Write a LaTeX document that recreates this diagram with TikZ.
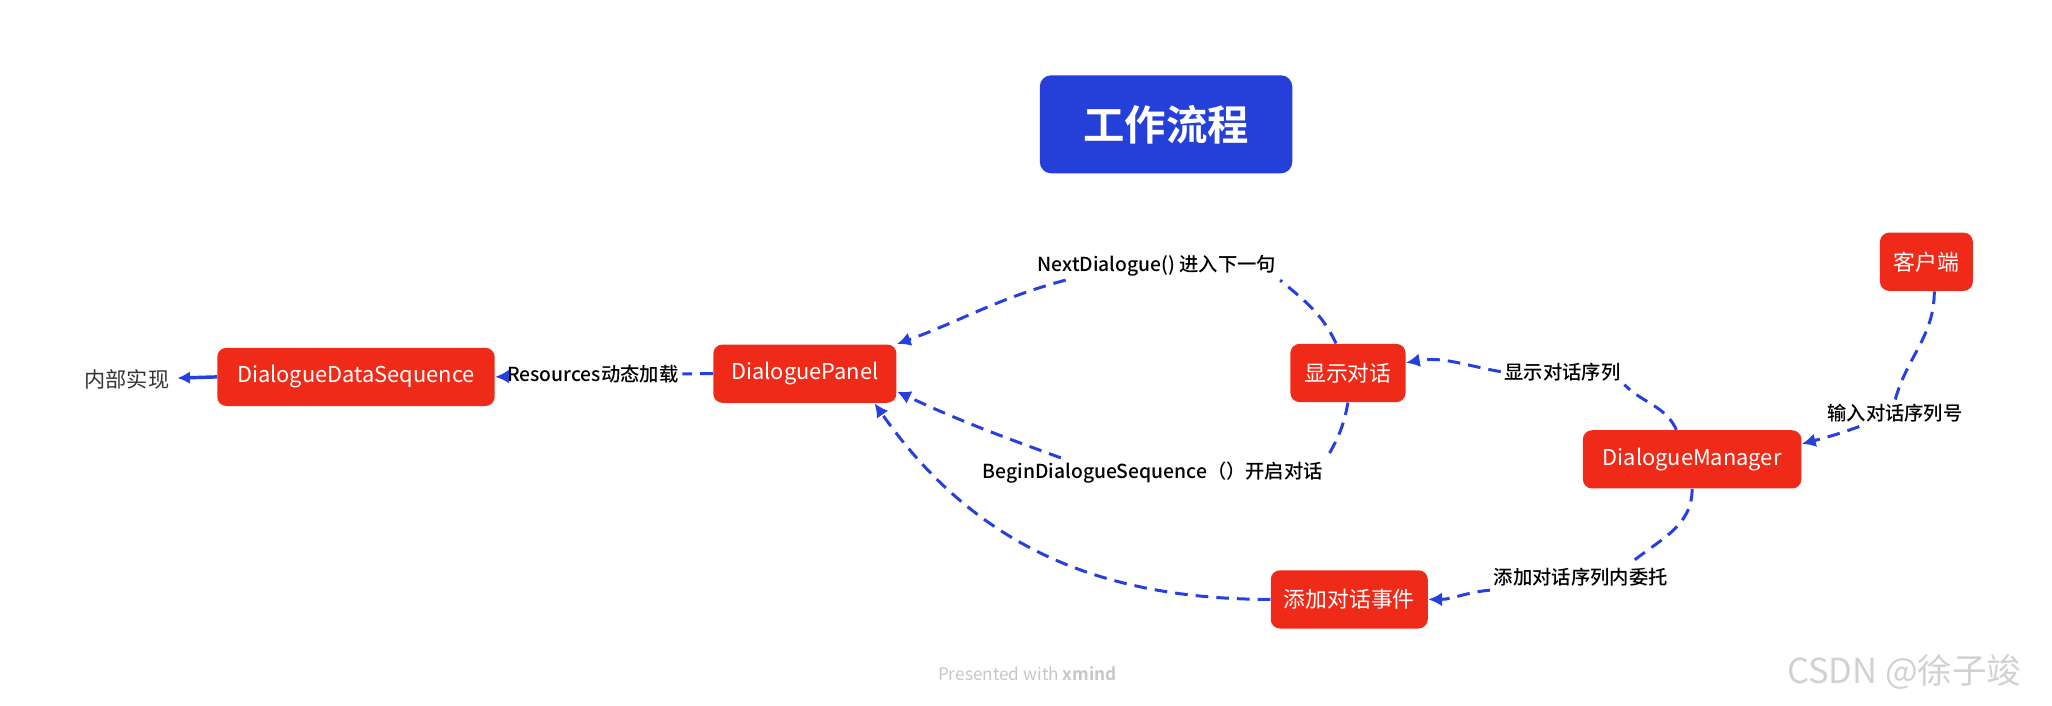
\documentclass[tikz,border=0pt]{standalone}
\usepackage{fontspec}
\setmainfont{Noto Sans CJK SC}
\newfontfamily\midfont{Noto Sans CJK SC Medium}
\newfontfamily\heavyfont{Noto Sans CJK SC Bold}
\usetikzlibrary{arrows.meta}

\definecolor{boxred}{RGB}{240,42,25}
\definecolor{titleblue}{RGB}{36,64,217}
\definecolor{lineblue}{RGB}{38,64,222}

\begin{document}
\begin{tikzpicture}[x=0.02cm,y=-0.02cm,
    redbox/.style={fill=boxred,text=white,rounded corners=4pt,
        minimum height=0.89cm,inner xsep=0pt,
        font=\fontsize{9.5}{10}\selectfont},
    tag/.style={inner sep=1.5pt,text=black,
        font=\midfont\fontsize{8.4}{10}\selectfont},
    flowline/.style={lineblue,line width=1.3pt,dash pattern=on 5.5pt off 3.5pt},
    flow/.style={flowline,-{Latex[length=6pt,width=6pt]}}
    ]

          \useasboundingbox (0,0) rectangle (1568,539);

          % title
          \node[fill=titleblue,text=white,rounded corners=5pt,
              minimum width=3.86cm,minimum height=1.5cm,
              font=\heavyfont\fontsize{18}{20}\selectfont] (title) at (891,95) {工作流程};

          % boxes
          \node[redbox,minimum width=1.42cm] (client) at (1472,200) {客户端};
          \node[redbox,minimum width=3.34cm] (manager) at (1293,351) {DialogueManager};
          \node[redbox,minimum width=1.76cm] (show) at (1030,285) {显示对话};
          \node[redbox,minimum width=2.8cm] (panel) at (615,285.5) {DialoguePanel};
          \node[redbox,minimum width=4.24cm] (dds) at (272,288) {DialogueDataSequence};
          \node[redbox,minimum width=2.4cm] (addevt) at (1031,458) {添加对话事件};
          \node[text=black!80,font=\fontsize{9.2}{10}\selectfont] (impl) at (97,290) {内部实现};

          % edge labels
          \node[tag] (lnext) at (884,203) {NextDialogue() 进入下一句};
          \node[tag] (lbegin) at (881,361) {BeginDialogueSequence（）开启对话};
          \node[tag] (lshow) at (1194,284) {显示对话序列};
          \node[tag] (linput) at (1448,316) {输入对话序列号};
          \node[tag] (ladd) at (1208,441) {添加对话序列内委托};
          \node[tag] (lres) at (453,286) {Resources动态加载};

          % client -> manager
          \draw[flowline] (client.-75) to[out=-90,in=75] (linput.north);
          \draw[flow] (linput.-160) to[out=-160,in=15] (manager.8);

          % manager -> show / add
          \draw[flowline] (manager.118) to[out=115,in=-45] (lshow.south east);
          \draw[flow] (lshow.west) to[out=170,in=10] (show.10);
          \draw[flowline] (manager.south) to[out=-90,in=40] (ladd.15);
          \draw[flow] (ladd.south west) to[out=185,in=0] (addevt.east);

          % show -> panel
          \draw[flowline] (show.112) to[out=115,in=-40] (lnext.south east);
          \draw[flow] (lnext.189) to[out=-165,in=20] (panel.north east);
          \draw[flowline] (show.south) to[out=-100,in=60] (lbegin.north east);
          \draw[flow] (lbegin.171) to[out=160,in=-25] (panel.-11);

          % add -> panel
          \draw[flow] (addevt.west) to[out=180,in=-55] (panel.-23);

          % panel -> dds -> impl
          \draw[flowline] (panel.west) -- (lres);
          \draw[flow] (lres) -- (dds.east);
          \draw[lineblue,line width=1.5pt,-{Latex[length=5.5pt,width=5.5pt]}] (dds.west) -- (impl);

          % footer
          \node[text=black!22,font=\fontsize{7.5}{9}\selectfont] (xmind) at (785,515)
              {Presented with {\heavyfont xmind}};
          \node[text=black!18,font=\fontsize{15}{16}\selectfont] (csdn) at (1455,513) {CSDN @徐子竣};
        \end{tikzpicture}
\end{document}
